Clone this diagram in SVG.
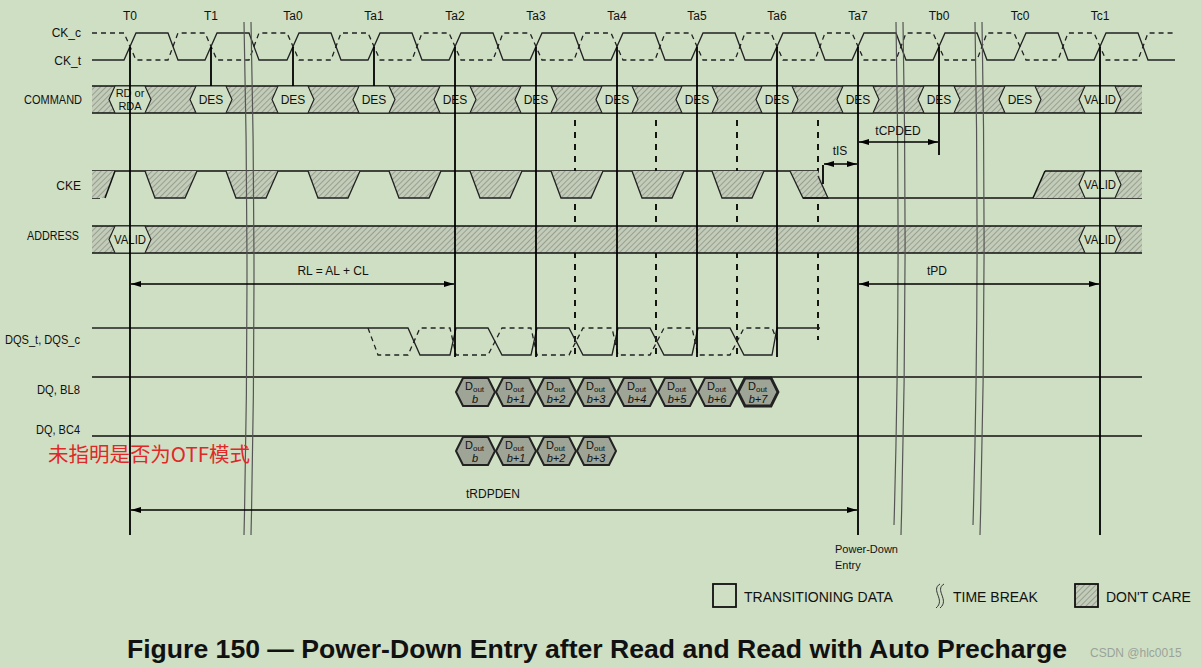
<svg xmlns="http://www.w3.org/2000/svg" width="1201" height="668" viewBox="0 0 1201 668">
<defs>
<pattern id="h" width="4" height="4" patternUnits="userSpaceOnUse" patternTransform="rotate(45)"><rect width="4" height="4" fill="#c3ccb9"/><line x1="0" y1="0" x2="0" y2="4" stroke="#7f8878" stroke-width="1.3"/></pattern>
<marker id="ae" viewBox="0 0 10 6" refX="10" refY="3" markerWidth="10" markerHeight="6" markerUnits="userSpaceOnUse" orient="auto"><path d="M0,0 L10,3 L0,6 Z" fill="#000"/></marker>
<marker id="as" viewBox="0 0 10 6" refX="0" refY="3" markerWidth="10" markerHeight="6" markerUnits="userSpaceOnUse" orient="auto"><path d="M10,0 L0,3 L10,6 Z" fill="#000"/></marker>
</defs>
<style>
text{font-family:"Liberation Sans Narrow","Liberation Sans",Arial,sans-serif;fill:#111}
.lb{font-size:12px;text-anchor:end}
.tk{font-size:12px;text-anchor:middle}
.cl{font-size:12px;text-anchor:middle}
.w{fill:none;stroke:#222;stroke-width:1.3}
.d{fill:none;stroke:#222;stroke-width:1.3;stroke-dasharray:5,4}
.v{stroke:#000;stroke-width:1.8}
.vd{stroke:#000;stroke-width:1.8;stroke-dasharray:6,6}
.hb{fill:url(#h);stroke:none}
.ln{stroke:#111;stroke-width:1.5}
.cell{fill:#cfdfc4;stroke:#222;stroke-width:1.2}
.hex{fill:#9ea597;stroke:#222;stroke-width:2}
.br{fill:none;stroke:#555;stroke-width:1.2}
.ar{stroke:#000;stroke-width:1.5;marker-start:url(#as);marker-end:url(#ae)}
.leg{font-family:"Liberation Sans",Arial,sans-serif;font-size:14px}
</style>
<rect width="1201" height="668" fill="#cfdfc4"/>

<g id="labels">
<text class="lb" x="81" y="37">CK_c</text>
<text class="lb" x="81" y="65">CK_t</text>
<text class="lb" x="82" y="104" textLength="58" lengthAdjust="spacingAndGlyphs">COMMAND</text>
<text class="lb" x="81" y="190">CKE</text>
<text class="lb" x="79" y="240" textLength="52" lengthAdjust="spacingAndGlyphs">ADDRESS</text>
<text class="lb" x="80" y="344" textLength="75" lengthAdjust="spacingAndGlyphs">DQS_t, DQS_c</text>
<text class="lb" x="80" y="394" textLength="43" lengthAdjust="spacingAndGlyphs">DQ, BL8</text>
<text class="lb" x="80" y="434" textLength="44" lengthAdjust="spacingAndGlyphs">DQ, BC4</text>
</g>

<g id="ticks">
<text class="tk" x="130" y="20">T0</text><text class="tk" x="211" y="20">T1</text>
<text class="tk" x="293" y="20">Ta0</text><text class="tk" x="374" y="20">Ta1</text>
<text class="tk" x="455" y="20">Ta2</text><text class="tk" x="536" y="20">Ta3</text>
<text class="tk" x="617" y="20">Ta4</text><text class="tk" x="697" y="20">Ta5</text>
<text class="tk" x="777" y="20">Ta6</text><text class="tk" x="858" y="20">Ta7</text>
<text class="tk" x="939" y="20">Tb0</text><text class="tk" x="1020" y="20">Tc0</text>
<text class="tk" x="1100" y="20">Tc1</text>
</g>

<g id="dashed-refs">
<line class="vd" x1="575" y1="120" x2="575" y2="357"/>
<line class="vd" x1="656" y1="120" x2="656" y2="357"/>
<line class="vd" x1="737" y1="120" x2="737" y2="357"/>
<line class="vd" x1="818" y1="120" x2="818" y2="340"/>
</g>

<g id="clock">
<path class="w" d="M92,60 L124,60 L136,33 L168,33 L178,60 L205,60 L217,33 L249,33 L259,60 L287,60 L299,33 L331,33 L341,60 L368,60 L380,33 L412,33 L422,60 L449,60 L461,33 L493,33 L503,60 L530,60 L542,33 L574,33 L584,60 L611,60 L623,33 L655,33 L665,60 L691,60 L703,33 L735,33 L745,60 L771,60 L783,33 L815,33 L825,60 L852,60 L864,33 L896,33 L906,60 L933,60 L945,33 L977,33 L987,60 L1014,60 L1026,33 L1058,33 L1068,60 L1094,60 L1106,33 L1138,33 L1148,60 L1175,60"/>
<path class="d" d="M92,33 L124,33 L136,60 L168,60 L178,33 L205,33 L217,60 L249,60 L259,33 L287,33 L299,60 L331,60 L341,33 L368,33 L380,60 L412,60 L422,33 L449,33 L461,60 L493,60 L503,33 L530,33 L542,60 L574,60 L584,33 L611,33 L623,60 L655,60 L665,33 L691,33 L703,60 L735,60 L745,33 L771,33 L783,60 L815,60 L825,33 L852,33 L864,60 L896,60 L906,33 L933,33 L945,60 L977,60 L987,33 L1014,33 L1026,60 L1058,60 L1068,33 L1094,33 L1106,60 L1138,60 L1148,33 L1175,33"/>
</g>

<g id="command">
<rect class="hb" x="92" y="86" width="1050" height="27"/>
<line class="ln" x1="92" y1="86" x2="1142" y2="86"/><line class="ln" x1="92" y1="113" x2="1142" y2="113"/>
<polygon class="cell" points="109,99.5 115,86 145,86 151,99.5 145,113 115,113"/>
<text class="cl" x="130" y="97" style="font-size:11px">RD or</text><text class="cl" x="130" y="110" style="font-size:11px">RDA</text>
<polygon class="cell" points="190,99.5 196,86 226,86 232,99.5 226,113 196,113"/><text class="cl" x="211" y="104">DES</text>
<polygon class="cell" points="272,99.5 278,86 308,86 314,99.5 308,113 278,113"/><text class="cl" x="293" y="104">DES</text>
<polygon class="cell" points="353,99.5 359,86 389,86 395,99.5 389,113 359,113"/><text class="cl" x="374" y="104">DES</text>
<polygon class="cell" points="434,99.5 440,86 470,86 476,99.5 470,113 440,113"/><text class="cl" x="455" y="104">DES</text>
<polygon class="cell" points="515,99.5 521,86 551,86 557,99.5 551,113 521,113"/><text class="cl" x="536" y="104">DES</text>
<polygon class="cell" points="596,99.5 602,86 632,86 638,99.5 632,113 602,113"/><text class="cl" x="617" y="104">DES</text>
<polygon class="cell" points="676,99.5 682,86 712,86 718,99.5 712,113 682,113"/><text class="cl" x="697" y="104">DES</text>
<polygon class="cell" points="756,99.5 762,86 792,86 798,99.5 792,113 762,113"/><text class="cl" x="777" y="104">DES</text>
<polygon class="cell" points="837,99.5 843,86 873,86 879,99.5 873,113 843,113"/><text class="cl" x="858" y="104">DES</text>
<polygon class="cell" points="918,99.5 924,86 954,86 960,99.5 954,113 924,113"/><text class="cl" x="939" y="104">DES</text>
<polygon class="cell" points="999,99.5 1005,86 1035,86 1041,99.5 1035,113 1005,113"/><text class="cl" x="1020" y="104">DES</text>
<polygon class="cell" points="1079,99.5 1085,86 1115,86 1121,99.5 1115,113 1085,113"/><text class="cl" x="1100" y="104" textLength="32" lengthAdjust="spacingAndGlyphs">VALID</text>
</g>

<g id="cke">
<line class="ln" x1="92" y1="171" x2="818" y2="171"/>
<line class="ln" x1="92" y1="198" x2="100" y2="198"/>
<polygon class="hb" points="92,171 115,171 105,198 92,198"/><line class="ln" x1="115" y1="171" x2="105" y2="198"/>
<polygon class="hb" points="145,171 197,171 185,198 155,198"/><polyline class="w" points="145,171 155,198 185,198 197,171"/>
<polygon class="hb" points="226,171 278,171 266,198 236,198"/><polyline class="w" points="226,171 236,198 266,198 278,171"/>
<polygon class="hb" points="308,171 360,171 348,198 318,198"/><polyline class="w" points="308,171 318,198 348,198 360,171"/>
<polygon class="hb" points="389,171 441,171 429,198 399,198"/><polyline class="w" points="389,171 399,198 429,198 441,171"/>
<polygon class="hb" points="470,171 522,171 510,198 480,198"/><polyline class="w" points="470,171 480,198 510,198 522,171"/>
<polygon class="hb" points="551,171 603,171 591,198 561,198"/><polyline class="w" points="551,171 561,198 591,198 603,171"/>
<polygon class="hb" points="632,171 684,171 672,198 642,198"/><polyline class="w" points="632,171 642,198 672,198 684,171"/>
<polygon class="hb" points="712,171 764,171 752,198 722,198"/><polyline class="w" points="712,171 722,198 752,198 764,171"/>
<polygon class="hb" points="790,171 818,171 828,198 803,198"/><polyline class="w" points="790,171 803,198 828,198 818,176"/>
<line class="ln" x1="803" y1="198" x2="1142" y2="198"/>
<polygon class="hb" points="1033,198 1045,171 1142,171 1142,198"/>
<line class="ln" x1="1033" y1="198" x2="1045" y2="171"/><line class="ln" x1="1045" y1="171" x2="1142" y2="171"/>
<polygon class="cell" points="1079,184.5 1085,171 1115,171 1121,184.5 1115,198 1085,198"/><text class="cl" x="1100" y="189" textLength="32" lengthAdjust="spacingAndGlyphs">VALID</text>
</g>

<g id="address">
<rect class="hb" x="92" y="226" width="1050" height="27"/>
<line class="ln" x1="92" y1="226" x2="1142" y2="226"/><line class="ln" x1="92" y1="253" x2="1142" y2="253"/>
<polygon class="cell" points="109,239.5 115,226 145,226 151,239.5 145,253 115,253"/><text class="cl" x="130" y="244" textLength="32" lengthAdjust="spacingAndGlyphs">VALID</text>
<polygon class="cell" points="1079,239.5 1085,226 1115,226 1121,239.5 1115,253 1085,253"/><text class="cl" x="1100" y="244" textLength="32" lengthAdjust="spacingAndGlyphs">VALID</text>
</g>

<g id="dqs">
<path class="w" d="M92,328 L408,328 L420,355 L450,355 L456,328 L488,328 L502,355 L531,355 L537,328 L569,328 L583,355 L612,355 L618,328 L650,328 L664,355 L692,355 L698,328 L730,328 L744,355 L772,355 L777,328 L820,328"/>
<path class="d" d="M368,328 L378,355 L408,355 L420,328 L450,328 L456,355 L488,355 L502,328 L531,328 L537,355 L569,355 L583,328 L612,328 L618,355 L650,355 L664,328 L692,328 L698,355 L730,355 L744,328 L772,328 L777,340"/>
</g>

<g id="dq">
<line class="ln" x1="92" y1="377" x2="1142" y2="377"/>
<line class="ln" x1="92" y1="436" x2="1142" y2="436"/>
</g>

<g id="verticals">
<line class="v" x1="130" y1="47" x2="130" y2="535"/>
<line class="v" x1="211" y1="47" x2="211" y2="86"/>
<line class="v" x1="293" y1="47" x2="293" y2="86"/>
<line class="v" x1="374" y1="47" x2="374" y2="86"/>
<line class="v" x1="455" y1="47" x2="455" y2="357"/>
<line class="v" x1="536" y1="47" x2="536" y2="357"/>
<line class="v" x1="617" y1="47" x2="617" y2="357"/>
<line class="v" x1="697" y1="47" x2="697" y2="357"/>
<line class="v" x1="777" y1="47" x2="777" y2="357"/>
<line class="v" x1="858" y1="47" x2="858" y2="535"/>
<line class="v" x1="939" y1="47" x2="939" y2="155"/>
<line class="v" x1="1100" y1="47" x2="1100" y2="535"/>
<line class="v" x1="823" y1="165" x2="823" y2="184"/>
</g>

<g id="dout-bl8">
<polygon class="hex" points="456,392 463,378 488,378 495,392 488,406 463,406"/>
<polygon class="hex" points="496,392 503,378 529,378 536,392 529,406 503,406"/>
<polygon class="hex" points="537,392 544,378 569,378 576,392 569,406 544,406"/>
<polygon class="hex" points="577,392 584,378 609,378 616,392 609,406 584,406"/>
<polygon class="hex" points="617,392 624,378 650,378 657,392 650,406 624,406"/>
<polygon class="hex" points="658,392 665,378 690,378 697,392 690,406 665,406"/>
<polygon class="hex" points="698,392 705,378 730,378 737,392 730,406 705,406"/>
<polygon class="hex" points="738,392 745,378 771,378 778,392 771,406 745,406" style="stroke-width:2.8"/>
</g>
<g id="dout-bc4">
<polygon class="hex" points="456,451 463,437 488,437 495,451 488,465 463,465"/>
<polygon class="hex" points="496,451 503,437 529,437 536,451 529,465 503,465"/>
<polygon class="hex" points="537,451 544,437 569,437 576,451 569,465 544,465"/>
<polygon class="hex" points="577,451 584,437 609,437 616,451 609,465 584,465"/>
</g>
<g id="dout-text" style="font-size:11px">
<text x="465" y="390">D<tspan font-size="8" dy="2">out</tspan></text><text x="475" y="403" text-anchor="middle" font-style="italic">b</text>
<text x="505" y="390">D<tspan font-size="8" dy="2">out</tspan></text><text x="516" y="403" text-anchor="middle" font-style="italic">b+1</text>
<text x="546" y="390">D<tspan font-size="8" dy="2">out</tspan></text><text x="556" y="403" text-anchor="middle" font-style="italic">b+2</text>
<text x="586" y="390">D<tspan font-size="8" dy="2">out</tspan></text><text x="596" y="403" text-anchor="middle" font-style="italic">b+3</text>
<text x="627" y="390">D<tspan font-size="8" dy="2">out</tspan></text><text x="637" y="403" text-anchor="middle" font-style="italic">b+4</text>
<text x="667" y="390">D<tspan font-size="8" dy="2">out</tspan></text><text x="677" y="403" text-anchor="middle" font-style="italic">b+5</text>
<text x="707" y="390">D<tspan font-size="8" dy="2">out</tspan></text><text x="717" y="403" text-anchor="middle" font-style="italic">b+6</text>
<text x="748" y="390">D<tspan font-size="8" dy="2">out</tspan></text><text x="758" y="403" text-anchor="middle" font-style="italic">b+7</text>
<text x="465" y="449">D<tspan font-size="8" dy="2">out</tspan></text><text x="475" y="462" text-anchor="middle" font-style="italic">b</text>
<text x="505" y="449">D<tspan font-size="8" dy="2">out</tspan></text><text x="516" y="462" text-anchor="middle" font-style="italic">b+1</text>
<text x="546" y="449">D<tspan font-size="8" dy="2">out</tspan></text><text x="556" y="462" text-anchor="middle" font-style="italic">b+2</text>
<text x="586" y="449">D<tspan font-size="8" dy="2">out</tspan></text><text x="596" y="462" text-anchor="middle" font-style="italic">b+3</text>
</g>

<g id="breaks">
<path class="br" d="M244,22 Q250,280 244,535"/><path class="br" d="M251,22 Q257,280 251,535"/>
<path class="br" d="M896,22 Q901,280 894,525"/><path class="br" d="M903,22 Q908,280 901,535"/>
<path class="br" d="M975,22 Q980,280 973,525"/><path class="br" d="M982,22 Q987,280 980,535"/>
</g>

<g id="connectors">
<line class="ar" x1="131" y1="284" x2="454" y2="284"/>
<line class="ar" x1="859" y1="284" x2="1099" y2="284"/>
<line class="ar" x1="131" y1="510" x2="857" y2="510"/>
<line class="ar" x1="824" y1="164" x2="857" y2="164"/>
<line class="ar" x1="859" y1="142" x2="938" y2="142"/>
</g>
<g id="timing-labels">
<text class="cl" x="333" y="275">RL = AL + CL</text>
<text class="cl" x="937" y="275">tPD</text>
<text class="cl" x="493" y="498">tRDPDEN</text>
<text class="cl" x="840" y="155">tIS</text>
<text class="cl" x="898" y="135">tCPDED</text>
<text x="835" y="553" style="font-size:11px">Power-Down</text>
<text x="835" y="569" style="font-size:11px">Entry</text>
</g>

<text x="48" y="462" textLength="202" lengthAdjust="spacingAndGlyphs" style="font-family:'Noto Sans CJK SC',serif;font-size:20px;fill:#e02828">未指明是否为OTF模式</text>

<g id="legend">
<rect x="713" y="584" width="23" height="23" fill="#cfdfc4" stroke="#111" stroke-width="1.8"/>
<text class="leg" x="744" y="602">TRANSITIONING DATA</text>
<path d="M940,584 C930,590 946,600 936,608 M944,584 C934,590 950,600 940,608" fill="none" stroke="#333" stroke-width="1"/>
<text class="leg" x="953" y="602">TIME BREAK</text>
<rect x="1075" y="584" width="23" height="23" fill="url(#h)" stroke="#111" stroke-width="1.8"/>
<text class="leg" x="1106" y="602">DON'T CARE</text>
</g>

<text x="597" y="658" text-anchor="middle" textLength="940" lengthAdjust="spacingAndGlyphs" style="font-family:'Liberation Sans',Arial,sans-serif;font-size:25px;font-weight:bold">Figure 150 — Power-Down Entry after Read and Read with Auto Precharge</text>
<text x="1090" y="657" style="font-family:'Liberation Sans',Arial,sans-serif;font-size:12px;fill:#9aa39a">CSDN @hlc0015</text>
</svg>
